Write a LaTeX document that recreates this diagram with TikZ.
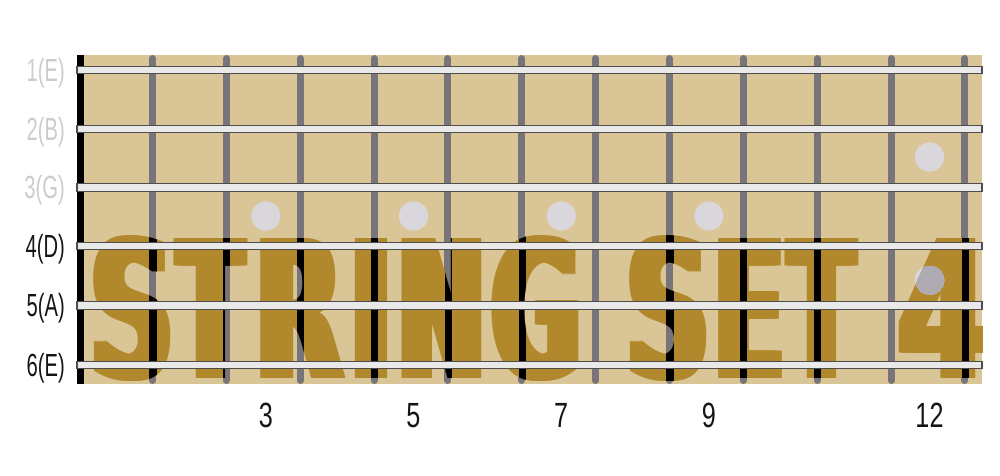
\documentclass[tikz,border=0pt]{standalone}
\usepackage{fontspec}
\setmainfont{Liberation Sans}
\newfontfamily\bigfont{DejaVu Sans Bold}
\definecolor{board}{HTML}{D9C595}
\definecolor{fretc}{HTML}{77747A}
\definecolor{dotc}{HTML}{D9D7DC}
\definecolor{gold}{HTML}{B1882C}
\definecolor{golddot}{RGB}{176,171,178}
\definecolor{strfill}{HTML}{E9E9E9}
\definecolor{stredge}{HTML}{4D4D4D}
\definecolor{lightlab}{HTML}{CCCCCC}
\definecolor{darklab}{HTML}{151515}
\tikzset{
  fretline/.style={draw=fretc, line width=7pt, line cap=round},
  inlay/.style={fill=dotc},
  titlefont/.style={font={\bigfont\fontsize{192}{192}\selectfont}, anchor=base, inner sep=0pt},
  stringline/.style={fill=strfill, draw=stredge, line width=1.1pt},
  lab/.style={font={\fontsize{32}{32}\selectfont}, anchor=base east, inner sep=0pt},
  num/.style={font={\fontsize{35}{35}\selectfont}, text=darklab, anchor=base, inner sep=0pt}
}
% one letter of the title, thickened by a horizontal smear of copies
% #1 name prefix, #2 colour, #3 centre x, #4 x scale, #5 letter
\newcommand\titleletter[5]{%
  \foreach \ii in {0,...,6}
    \node[titlefont, text=#2] (#1-\ii) at ({#3+(\ii/6-0.5)*12},378) {\scalebox{#4}[1]{\smash{#5}}};}
\newcommand\titlerow[2]{% #1 prefix, #2 colour
  \titleletter{#1a}{#2}{132.5}{0.59}{S}
  \titleletter{#1b}{#2}{210.5}{0.48}{T}
  \titleletter{#1c}{#2}{299}{0.58}{R}
  \titleletter{#1d}{#2}{371}{0.56}{I}
  \titleletter{#1e}{#2}{442}{0.54}{N}
  \titleletter{#1f}{#2}{536.5}{0.56}{G}
  \titleletter{#1g}{#2}{668}{0.59}{S}
  \titleletter{#1h}{#2}{749.5}{0.52}{E}
  \titleletter{#1i}{#2}{821.5}{0.48}{T}
  \titleletter{#1j}{#2}{944}{0.67}{4}}
\begin{document}
\begin{tikzpicture}[x=1pt,y=-1pt]
\useasboundingbox (0,0) rectangle (1000,475);
% board
\fill[board] (77,55) rectangle (982,384);
% frets
\foreach \k in {0,...,11}
  \draw[fretline] ({152.5+73.86*\k},58.5) -- ({152.5+73.86*\k},380.5);
% inlays
\fill[inlay] (265.8,216) circle (14.6);
\fill[inlay] (413.5,216) circle (14.6);
\fill[inlay] (561.2,216) circle (14.6);
\fill[inlay] (708.9,216) circle (14.6);
\fill[inlay] (929.5,157) circle (14.6);
\fill[inlay] (929.5,280) circle (14.6);
% big title, gold
\begin{scope}
\clip (77,55) rectangle (982,384);
\titlerow{g}{gold}
\end{scope}
% title seen over the inlay
\begin{scope}
\clip (929.5,280) circle (14.6);
\titleletter{dj}{golddot}{944}{0.67}{4}
\end{scope}
% title seen over the frets
\begin{scope}
\path[clip] foreach \k in {0,...,11} { ({149+73.86*\k},55) rectangle ({156+73.86*\k},384) };
\titlerow{k}{black}
\end{scope}
% nut
\fill[black] (77,55) rectangle (84,384);
% strings
\foreach \y in {70,129,187.5,246,305.5,365}
  \draw[stringline] (77,{\y-3.8}) rectangle (982,{\y+3.8});
% string labels
\node[lab, text=lightlab] (s1) at (65,81) {\scalebox{0.63}[1]{1(E)}};
\node[lab, text=lightlab] (s2) at (65,140) {\scalebox{0.63}[1]{2(B)}};
\node[lab, text=lightlab] (s3) at (65,198.5) {\scalebox{0.63}[1]{3(G)}};
\node[lab, text=darklab] (s4) at (65,257) {\scalebox{0.63}[1]{4(D)}};
\node[lab, text=darklab] (s5) at (65,316.5) {\scalebox{0.63}[1]{5(A)}};
\node[lab, text=darklab] (s6) at (65,376) {\scalebox{0.63}[1]{6(E)}};
% fret numbers
\node[num] (n3) at (265.8,427) {\scalebox{0.72}[1]{3}};
\node[num] (n5) at (413.5,427) {\scalebox{0.72}[1]{5}};
\node[num] (n7) at (561.2,427) {\scalebox{0.72}[1]{7}};
\node[num] (n9) at (708.9,427) {\scalebox{0.72}[1]{9}};
\node[num] (n12) at (929.5,427) {\scalebox{0.72}[1]{12}};
\end{tikzpicture}
\end{document}
